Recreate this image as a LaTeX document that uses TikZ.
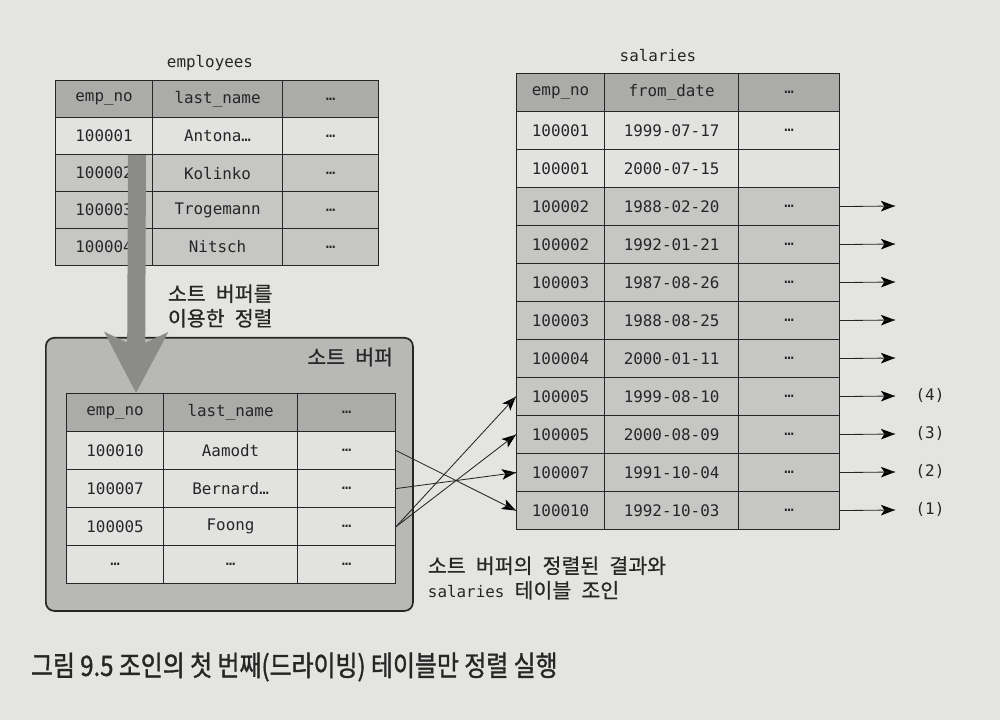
\documentclass[tikz,border=0pt]{standalone}
\usepackage{fontspec}
\usepackage{tikz}
\setmonofont{DejaVu Sans Mono}
\newfontfamily\kr[WordSpace=2.2, FakeBold=0.6]{Noto Sans CJK KR}
\newfontfamily\capfont[FakeStretch=0.85, FakeBold=1.2]{Noto Sans CJK KR}
\usetikzlibrary{positioning, calc, arrows.meta, decorations.markings}
\definecolor{paper}{HTML}{E4E4E1}
\definecolor{hd}{HTML}{ABABAA}
\definecolor{md}{HTML}{C6C6C5}
\definecolor{lt}{HTML}{E2E2E1}
\definecolor{boxgray}{HTML}{B8B8B6}
\definecolor{ink}{HTML}{262626}
\definecolor{arrowgray}{HTML}{8B8B8A}
\tikzstyle{Arrow} = [
%Create custom arrow style:
semithick, draw = ink,
decoration={
markings,
mark=at position 1 with {
\arrow[semithick]{Stealth[length=10pt, width=7.5pt, inset=2.5pt]}
}
},
preaction = {decorate}
]

\begin{document}
\begin{tikzpicture}[
		x = 0.025cm, y = -0.025cm,
		cell/.style = {rectangle, draw = ink, thick, anchor = north west, inner sep = 0pt, text = ink, font = \ttfamily\fontsize{11.3}{13}\selectfont},
		tabname/.style = {text = ink, font = \ttfamily\fontsize{11.3}{13}\selectfont},
		kor/.style = {text = ink, align = left, anchor = west, font = \kr\fontsize{14.6}{17.5}\selectfont},
		buffer/.style = {rectangle, rounded corners = 6pt, draw = ink, very thick, fill = boxgray, anchor = north west},
		bigarrow/.style = {draw = arrowgray, line width = 0.45cm, -{Stealth[length = 1.5cm, width = 1.55cm, inset = 0.35cm]}},
	]
	\fill[paper] (0,0) rectangle (1000,720);
	\useasboundingbox (0,0) rectangle (1000,720);

	\node[tabname] (ET) at (210, 63) {employees};
	\foreach \r/\fc/\a/\b in {0/hd/emp\_no/last\_name, 1/lt/100001/Antona…, 2/md/100002/Kolinko, 3/md/100003/Trogemann, 4/md/100004/Nitsch}{
		\node[cell, fill = \fc, minimum width = 2.425cm, minimum height = 0.925cm] (E\r-a) at (55, {80 + 37*\r}) {\a};
		\node[cell, fill = \fc, minimum width = 3.25cm, minimum height = 0.925cm] (E\r-b) at (152, {80 + 37*\r}) {\b};
		\node[cell, fill = \fc, minimum width = 2.4cm, minimum height = 0.925cm] (E\r-c) at (282, {80 + 37*\r}) {…};
	}

	\node[kor] (SortTxt) at (163, 306) {소트 버퍼를\\이용한 정렬};

	\node[buffer, minimum width = 9.175cm, minimum height = 6.825cm] (SB) at (45, 337) {};
	\node[kor, anchor = east] (SBL) at (398, 357) {소트 버퍼};

	\coordinate (A1) at (137, 155);
	\coordinate (A2) at (136, 393);
	\draw[bigarrow] (A1) -- (A2);

	\foreach \r/\a/\b in {0/emp\_no/last\_name, 1/100010/Aamodt, 2/100007/Bernard…, 3/100005/Foong, 4/…/…}{
		\ifnum\r=0 \def\fc{hd}\else \def\fc{lt}\fi
		\node[cell, fill = \fc, minimum width = 2.425cm, minimum height = 0.95cm] (B\r-a) at (66, {393 + 38*\r}) {\a};
		\node[cell, fill = \fc, minimum width = 3.35cm, minimum height = 0.95cm] (B\r-b) at (163, {393 + 38*\r}) {\b};
		\node[cell, fill = \fc, minimum width = 2.45cm, minimum height = 0.95cm] (B\r-c) at (297, {393 + 38*\r}) {…};
	}

	\node[tabname] (ST) at (658, 56) {salaries};
	\foreach \r/\fc/\a/\b/\c in {0/hd/emp\_no/from\_date/…, 1/lt/100001/1999-07-17/…, 2/lt/100001/2000-07-15/{}, 3/md/100002/1988-02-20/…, 4/md/100002/1992-01-21/…, 5/md/100003/1987-08-26/…, 6/md/100003/1988-08-25/…, 7/md/100004/2000-01-11/…, 8/md/100005/1999-08-10/…, 9/md/100005/2000-08-09/…, 10/md/100007/1991-10-04/…, 11/md/100010/1992-10-03/…}{
		\node[cell, fill = \fc, minimum width = 2.2cm, minimum height = 0.95cm] (S\r-a) at (516, {73 + 38*\r}) {\a};
		\node[cell, fill = \fc, minimum width = 3.35cm, minimum height = 0.95cm] (S\r-b) at (604, {73 + 38*\r}) {\b};
		\node[cell, fill = \fc, minimum width = 2.525cm, minimum height = 0.95cm] (S\r-c) at (738, {73 + 38*\r}) {\c};
	}

	\foreach \r in {3,...,11}{
		\coordinate (O\r) at (895, {92 + 38*\r});
		\draw[Arrow] (S\r-c.east) -- (O\r);
	}
	\foreach \r/\k in {8/4, 9/3, 10/2, 11/1}{
		\node[tabname] (L\k) at (930, {92 + 38*\r}) {(\k)};
	}

	\draw[Arrow] (B1-c.east) -- (S11-a.west);
	\draw[Arrow] (B2-c.east) -- (S10-a.west);
	\draw[Arrow] (B3-c.east) -- (S9-a.west);
	\draw[Arrow] (B3-c.east) -- (S8-a.west);

	\node[kor] (JoinTxt) at (423, 578) {소트 버퍼의 정렬된 결과와\\{\ttfamily\fontsize{11.3}{17.5}\selectfont salaries} 테이블 조인};

	\node[anchor = west, text = ink, font = \capfont\fontsize{20}{22}\selectfont] (CAP) at (26, 667) {그림 9.5 조인의 첫 번째(드라이빙) 테이블만 정렬 실행};
\end{tikzpicture}
\end{document}
